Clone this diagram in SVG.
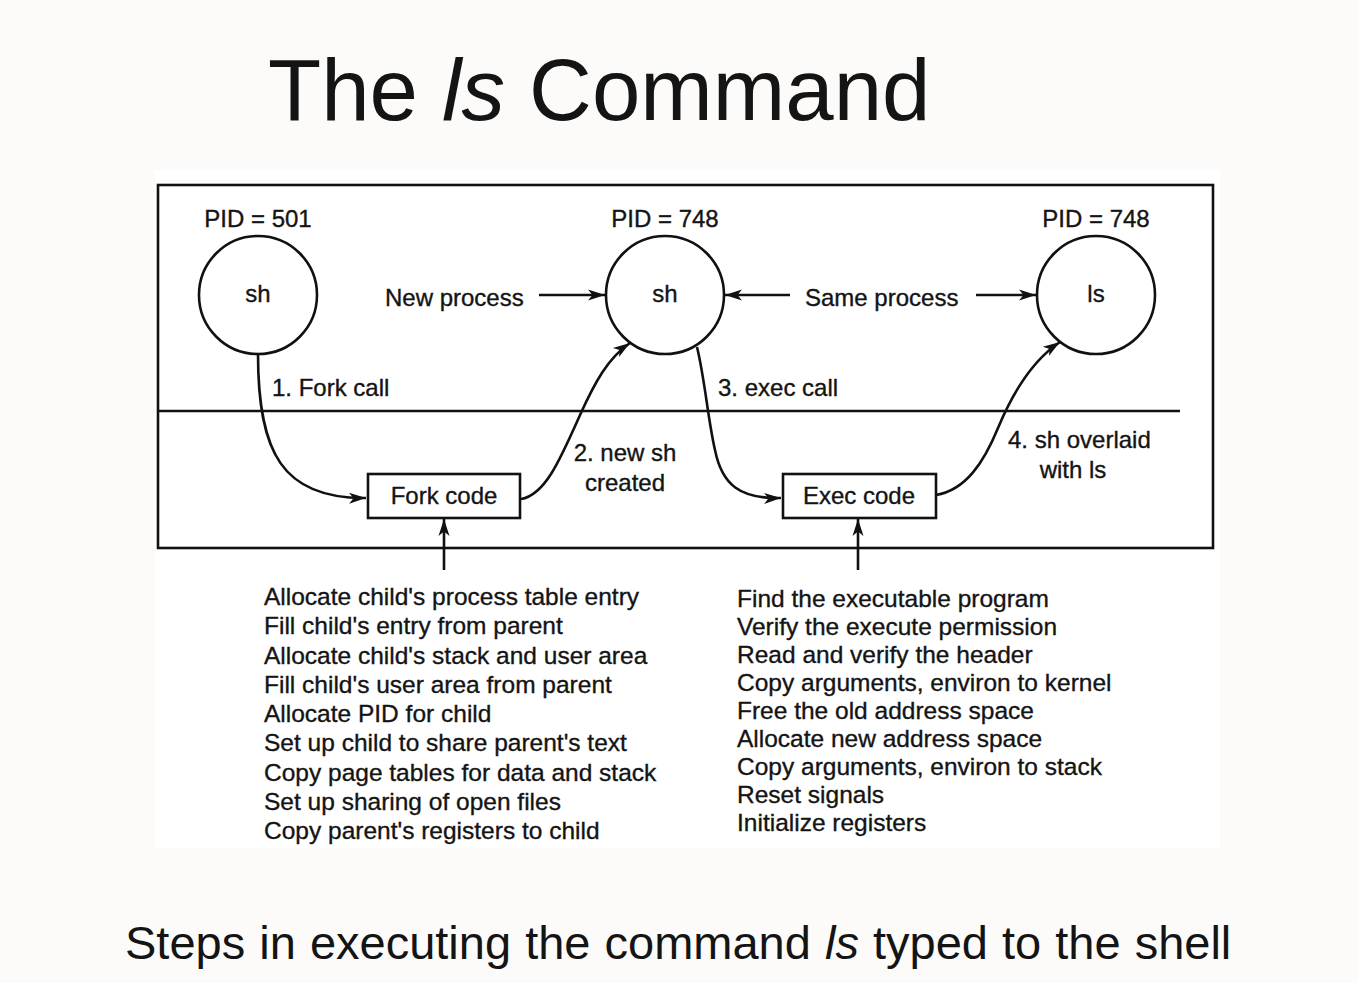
<svg xmlns="http://www.w3.org/2000/svg" width="1358" height="983" viewBox="0 0 1358 983">
  <style>
    text { font-family: "Liberation Sans", Arial, sans-serif; fill: #141414; }
    .lbl { font-size: 24px; stroke: #141414; stroke-width: 0.35; }
    .mid { text-anchor: middle; }
    .list { font-size: 24.5px; stroke: #141414; stroke-width: 0.35; }
    .shape { fill: none; stroke: #111; stroke-width: 2.6; }
    .conn { fill: none; stroke: #111; stroke-width: 2.6; }
  </style>
  <defs>
    <marker id="arr" markerUnits="userSpaceOnUse" markerWidth="20" markerHeight="14" refX="17" refY="7" orient="auto">
      <path d="M0,1.5 L17,7 L0,12.5 L4.5,7 Z" fill="#111"/>
    </marker>
  </defs>

  <rect x="0" y="0" width="1358" height="983" fill="#fcfbf9"/>
  <rect x="155" y="170" width="1065" height="678" fill="#ffffff"/>

  <g id="title">
    <text x="268" y="120" font-size="87">The <tspan font-style="italic">ls</tspan> Command</text>
  </g>

  <g id="frame">
    <rect x="158" y="185" width="1055" height="363" class="shape"/>
    <line x1="158" y1="411" x2="1180" y2="411" stroke="#111" stroke-width="2.3"/>
  </g>

  <g id="node-sh501">
    <text x="258" y="227" class="lbl mid">PID = 501</text>
    <circle cx="258" cy="295" r="59" class="shape"/>
    <text x="258" y="302" class="lbl mid">sh</text>
  </g>

  <g id="node-sh748">
    <text x="665" y="227" class="lbl mid">PID = 748</text>
    <circle cx="665" cy="295" r="59" class="shape"/>
    <text x="665" y="302" class="lbl mid">sh</text>
  </g>

  <g id="node-ls748">
    <text x="1096" y="227" class="lbl mid">PID = 748</text>
    <circle cx="1096" cy="295" r="59" class="shape"/>
    <text x="1096" y="302" class="lbl mid">ls</text>
  </g>

  <g id="node-fork">
    <rect x="368" y="474" width="152" height="44" class="shape"/>
    <text x="444" y="504" class="lbl mid">Fork code</text>
  </g>

  <g id="node-exec">
    <rect x="783" y="474" width="153" height="44" class="shape"/>
    <text x="859" y="504" class="lbl mid">Exec code</text>
  </g>

  <g id="connectors">
    <line x1="539" y1="295" x2="605" y2="295" class="conn" marker-end="url(#arr)"/>
    <line x1="790" y1="295" x2="725" y2="295" class="conn" marker-end="url(#arr)"/>
    <line x1="976" y1="295" x2="1036" y2="295" class="conn" marker-end="url(#arr)"/>
    <path d="M258,354 C258,452 282,499 366,498" class="conn" marker-end="url(#arr)"/>
    <path d="M521,499 C545,495 560,460 580,415 C595,382 608,358 630,343" class="conn" marker-end="url(#arr)"/>
    <path d="M697,347 C705,380 708,420 715,450 C722,485 740,499 781,498" class="conn" marker-end="url(#arr)"/>
    <path d="M936,495 C966,490 984,462 998,428 C1013,392 1033,360 1060,342" class="conn" marker-end="url(#arr)"/>
    <line x1="444" y1="570" x2="444" y2="519" class="conn" marker-end="url(#arr)"/>
    <line x1="858" y1="570" x2="858" y2="519" class="conn" marker-end="url(#arr)"/>
  </g>

  <g id="labels">
    <text x="385" y="306" class="lbl">New process</text>
    <text x="805" y="306" class="lbl">Same process</text>
    <text x="272" y="396" class="lbl">1. Fork call</text>
    <text x="718" y="396" class="lbl">3. exec call</text>
    <text x="625" y="461" class="lbl mid">2. new sh</text>
    <text x="625" y="491" class="lbl mid">created</text>
    <text x="1008" y="448" class="lbl">4. sh overlaid</text>
    <text x="1073" y="478" class="lbl mid">with ls</text>
  </g>

  <g id="fork-steps">
    <text x="264" y="605" class="list">Allocate child's process table entry</text>
    <text x="264" y="634.25" class="list">Fill child's entry from parent</text>
    <text x="264" y="663.5" class="list">Allocate child's stack and user area</text>
    <text x="264" y="692.75" class="list">Fill child's user area from parent</text>
    <text x="264" y="722" class="list">Allocate PID for child</text>
    <text x="264" y="751.25" class="list">Set up child to share parent's text</text>
    <text x="264" y="780.5" class="list">Copy page tables for data and stack</text>
    <text x="264" y="809.75" class="list">Set up sharing of open files</text>
    <text x="264" y="839" class="list">Copy parent's registers to child</text>
  </g>

  <g id="exec-steps">
    <text x="737" y="607" class="list">Find the executable program</text>
    <text x="737" y="635" class="list">Verify the execute permission</text>
    <text x="737" y="663" class="list">Read and verify the header</text>
    <text x="737" y="691" class="list">Copy arguments, environ to kernel</text>
    <text x="737" y="719" class="list">Free the old address space</text>
    <text x="737" y="747" class="list">Allocate new address space</text>
    <text x="737" y="775" class="list">Copy arguments, environ to stack</text>
    <text x="737" y="803" class="list">Reset signals</text>
    <text x="737" y="831" class="list">Initialize registers</text>
  </g>

  <g id="caption">
    <text x="125" y="959" font-size="47" word-spacing="1">Steps in executing the command <tspan font-style="italic">ls</tspan> typed to the shell</text>
  </g>
</svg>
